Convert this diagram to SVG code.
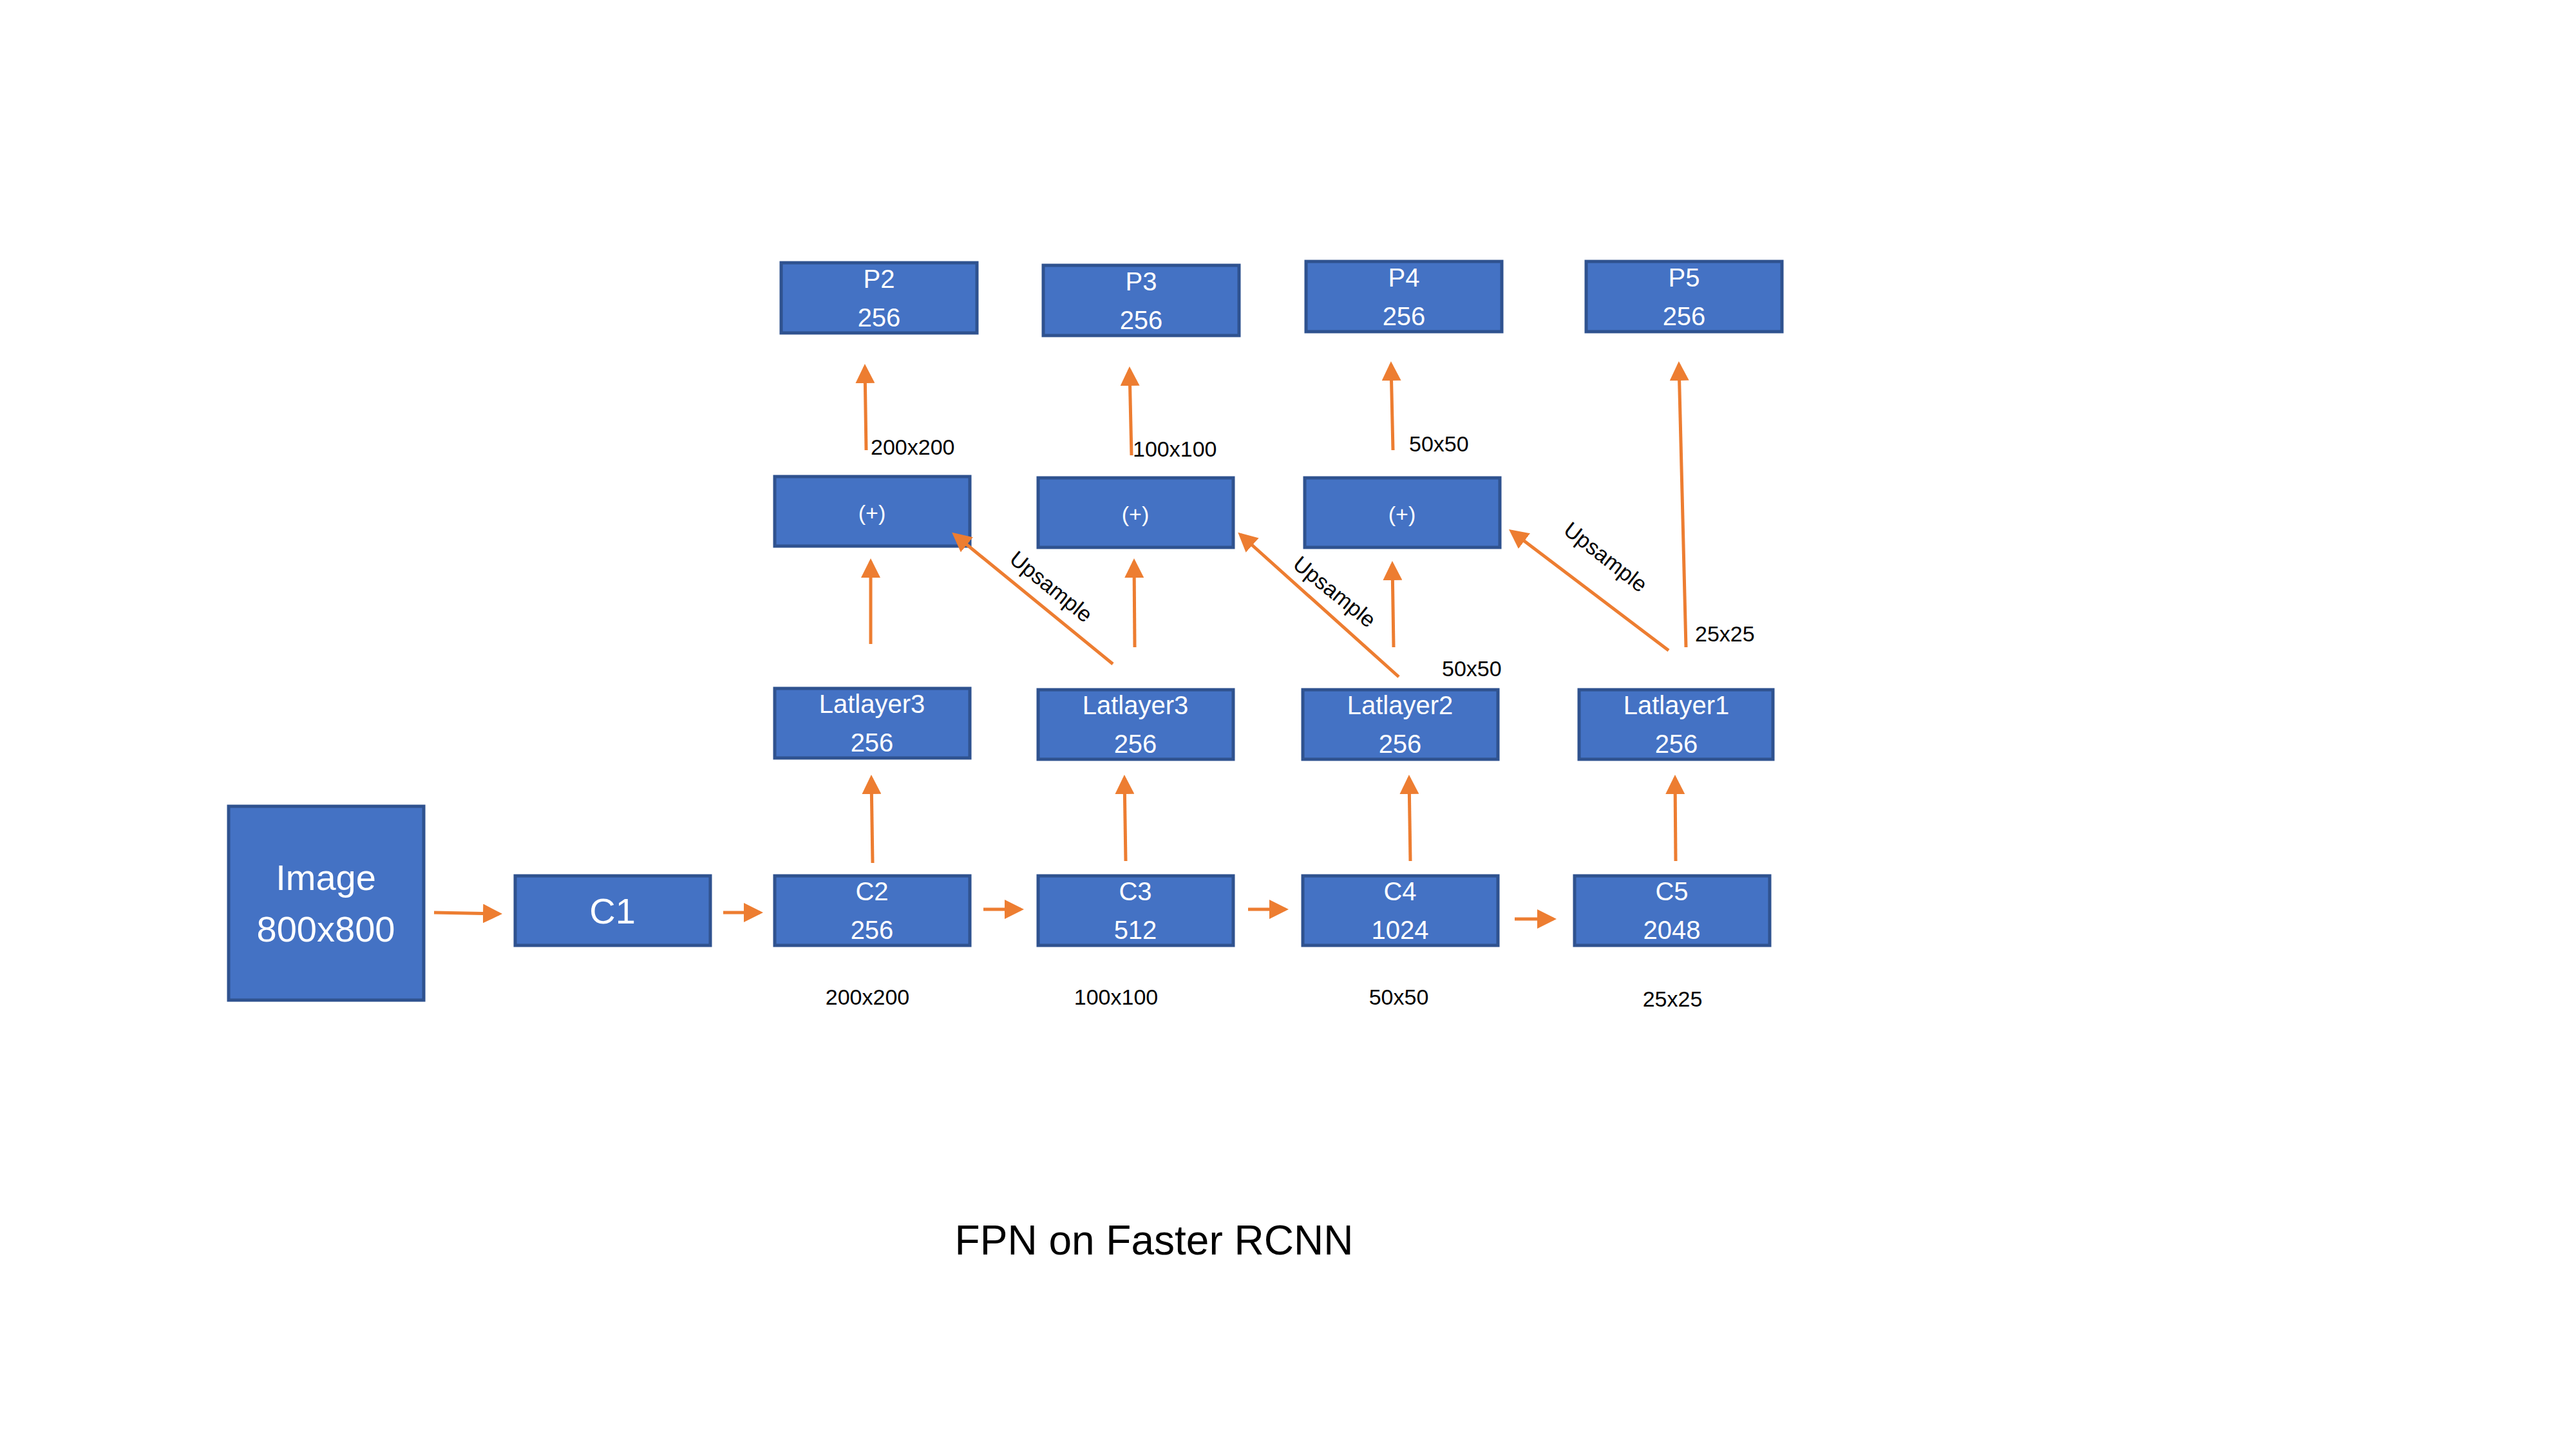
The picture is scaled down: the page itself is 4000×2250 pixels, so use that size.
<svg xmlns="http://www.w3.org/2000/svg" width="4000" height="2250" viewBox="0 0 4000 2250">
<style>
.b{fill:#4472C4;stroke:#2F528F;stroke-width:5}
.t{fill:#fff;font-family:"Liberation Sans",Arial,sans-serif;font-size:40px;text-anchor:middle}
.tb{fill:#fff;font-family:"Liberation Sans",Arial,sans-serif;font-size:56px;text-anchor:middle}
.l{fill:#000;font-family:"Liberation Sans",Arial,sans-serif;font-size:34px}
.a{stroke:#ED7D31;stroke-width:5;fill:none;marker-end:url(#m)}
</style>
<defs><marker id="m" markerWidth="6" markerHeight="6" refX="5" refY="3" orient="auto" markerUnits="strokeWidth"><path d="M0,0 L6,3 L0,6 z" fill="#ED7D31"/></marker></defs>
<rect width="4000" height="2250" fill="#fff"/>
<g id="image"><rect class="b" x="355" y="1252" width="303" height="301"/><text class="tb" x="506" y="1382">Image</text><text class="tb" x="506" y="1462">800x800</text></g>
<g id="c1"><rect class="b" x="800" y="1360" width="303" height="108"/><text class="tb" x="951" y="1434">C1</text></g>
<g id="c2"><rect class="b" x="1203" y="1360" width="303" height="108"/><text class="t" x="1354" y="1398">C2</text><text class="t" x="1354" y="1458">256</text></g>
<g id="c3"><rect class="b" x="1612" y="1360" width="303" height="108"/><text class="t" x="1763" y="1398">C3</text><text class="t" x="1763" y="1458">512</text></g>
<g id="c4"><rect class="b" x="2023" y="1360" width="303" height="108"/><text class="t" x="2174" y="1398">C4</text><text class="t" x="2174" y="1458">1024</text></g>
<g id="c5"><rect class="b" x="2445" y="1360" width="303" height="108"/><text class="t" x="2596" y="1398">C5</text><text class="t" x="2596" y="1458">2048</text></g>
<g id="lat3a"><rect class="b" x="1203" y="1069" width="303" height="108"/><text class="t" x="1354" y="1107">Latlayer3</text><text class="t" x="1354" y="1167">256</text></g>
<g id="lat3b"><rect class="b" x="1612" y="1071" width="303" height="108"/><text class="t" x="1763" y="1109">Latlayer3</text><text class="t" x="1763" y="1169">256</text></g>
<g id="lat2"><rect class="b" x="2023" y="1071" width="303" height="108"/><text class="t" x="2174" y="1109">Latlayer2</text><text class="t" x="2174" y="1169">256</text></g>
<g id="lat1"><rect class="b" x="2452" y="1071" width="301" height="108"/><text class="t" x="2603" y="1109">Latlayer1</text><text class="t" x="2603" y="1169">256</text></g>
<g id="sum2"><rect class="b" x="1203" y="740" width="303" height="108"/><text class="t" x="1354" y="808" style="font-size:34px">(+)</text></g>
<g id="sum3"><rect class="b" x="1612" y="742" width="303" height="108"/><text class="t" x="1763" y="810" style="font-size:34px">(+)</text></g>
<g id="sum4"><rect class="b" x="2026" y="742" width="303" height="108"/><text class="t" x="2177" y="810" style="font-size:34px">(+)</text></g>
<g id="p2"><rect class="b" x="1213" y="408" width="304" height="109"/><text class="t" x="1365" y="447">P2</text><text class="t" x="1365" y="507">256</text></g>
<g id="p3"><rect class="b" x="1620" y="412" width="304" height="109"/><text class="t" x="1772" y="451">P3</text><text class="t" x="1772" y="511">256</text></g>
<g id="p4"><rect class="b" x="2028" y="406" width="304" height="109"/><text class="t" x="2180" y="445">P4</text><text class="t" x="2180" y="505">256</text></g>
<g id="p5"><rect class="b" x="2463" y="406" width="304" height="109"/><text class="t" x="2615" y="445">P5</text><text class="t" x="2615" y="505">256</text></g>
<g id="connectors">
<line class="a" x1="674" y1="1417" x2="775" y2="1419"/>
<line class="a" x1="1123" y1="1417" x2="1180" y2="1417"/>
<line class="a" x1="1527" y1="1412" x2="1585" y2="1412"/>
<line class="a" x1="1938" y1="1412" x2="1996" y2="1412"/>
<line class="a" x1="2352" y1="1427" x2="2412" y2="1427"/>
<line class="a" x1="1355" y1="1340" x2="1353" y2="1208"/>
<line class="a" x1="1748" y1="1337" x2="1746" y2="1208"/>
<line class="a" x1="2190" y1="1337" x2="2188" y2="1208"/>
<line class="a" x1="2602" y1="1337" x2="2601" y2="1208"/>
<line class="a" x1="1352" y1="1000" x2="1352" y2="872"/>
<line class="a" x1="1762" y1="1005" x2="1761" y2="872"/>
<line class="a" x1="2164" y1="1005" x2="2162" y2="876"/>
<line class="a" x1="1728" y1="1031" x2="1482" y2="830"/>
<line class="a" x1="2172" y1="1051" x2="1926" y2="830"/>
<line class="a" x1="2591" y1="1010" x2="2347" y2="825"/>
<line class="a" x1="1345" y1="699" x2="1343" y2="570"/>
<line class="a" x1="1757" y1="707" x2="1754" y2="574"/>
<line class="a" x1="2163" y1="699" x2="2160" y2="566"/>
<line class="a" x1="2618" y1="1005" x2="2607" y2="566"/>
</g>
<g id="labels">
<text class="l" x="1352" y="706">200x200</text>
<text class="l" x="1759" y="709">100x100</text>
<text class="l" x="2188" y="701">50x50</text>
<text class="l" x="2632" y="996">25x25</text>
<text class="l" x="2239" y="1050">50x50</text>
<text class="l" x="1347" y="1560" text-anchor="middle">200x200</text>
<text class="l" x="1733" y="1560" text-anchor="middle">100x100</text>
<text class="l" x="2172" y="1560" text-anchor="middle">50x50</text>
<text class="l" x="2597" y="1563" text-anchor="middle">25x25</text>
<text class="l" transform="translate(1625,920) rotate(39)" text-anchor="middle">Upsample</text>
<text class="l" transform="translate(2065,928) rotate(39)" text-anchor="middle">Upsample</text>
<text class="l" transform="translate(2486,874) rotate(38)" text-anchor="middle">Upsample</text>
<text x="1792" y="1948" text-anchor="middle" style="font-family:'Liberation Sans',Arial,sans-serif;font-size:64px">FPN on Faster RCNN</text>
</g>
</svg>
